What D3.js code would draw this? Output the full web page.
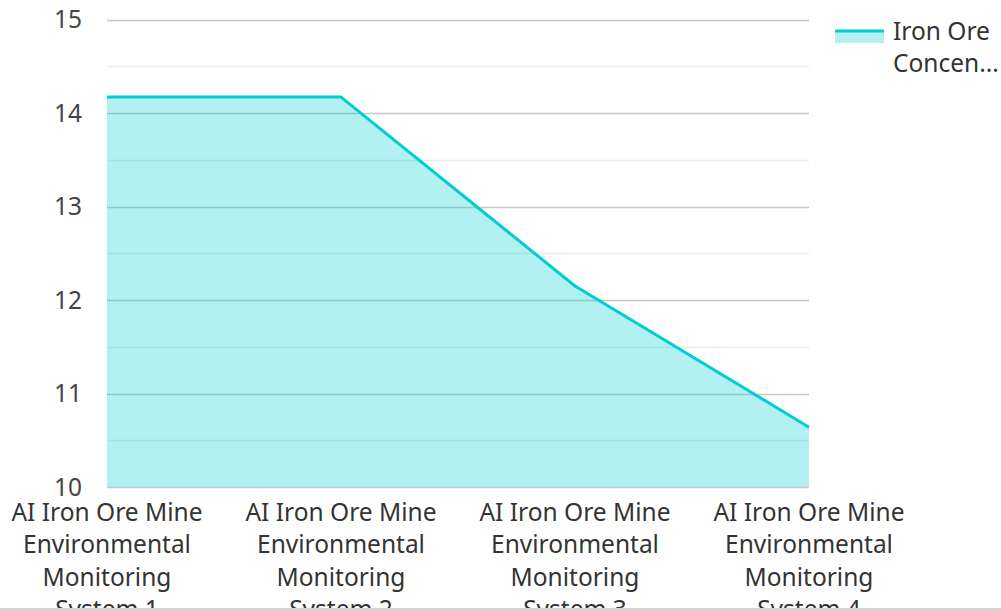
<!DOCTYPE html>
<html>
<head>
<meta charset="utf-8">
<script src="https://cdn.jsdelivr.net/npm/d3@7"></script>
<style>
  html, body { margin: 0; padding: 0; background: #fff; overflow: hidden; }
  svg { display: block; }
  text { font-family: "Noto Sans", "Open Sans", sans-serif; }
</style>
</head>
<body>
<script>
const categories = [
  "AI Iron Ore Mine Environmental Monitoring System 1",
  "AI Iron Ore Mine Environmental Monitoring System 2",
  "AI Iron Ore Mine Environmental Monitoring System 3",
  "AI Iron Ore Mine Environmental Monitoring System 4"
];
const seriesName = "Iron Ore Concentration";
const legendLines = ["Iron Ore", "Concen..."];
const values = [14.17, 14.17, 12.15, 10.64];
const yTicks = [10, 11, 12, 13, 14, 15];
const yMinorTicks = [10.5, 11.5, 12.5, 13.5, 14.5];

const W = 1001, H = 611;
const margin = { left: 107, right: 192, top: 19.5, bottom: 124 };
const color = "#00CED1";
const FS = 24.5;

const svg = d3.select("body").append("svg").attr("width", W).attr("height", H);

const x = d3.scalePoint().domain(categories).range([margin.left, W - margin.right]).padding(0);
const y = d3.scaleLinear().domain([10, 15]).range([H - margin.bottom, margin.top]);

// gridlines
svg.append("g").selectAll("line").data(yMinorTicks).join("line")
  .attr("x1", margin.left).attr("x2", W - margin.right)
  .attr("y1", d => Math.round(y(d)) + 0.5).attr("y2", d => Math.round(y(d)) + 0.5)
  .attr("stroke", "#ebebeb").attr("stroke-width", 1.5);
svg.append("g").selectAll("line").data(yTicks).join("line")
  .attr("x1", margin.left).attr("x2", W - margin.right)
  .attr("y1", d => Math.round(y(d)) + 0.5).attr("y2", d => Math.round(y(d)) + 0.5)
  .attr("stroke", "#c8c8c8").attr("stroke-width", 1.5);

// y labels
svg.append("g").selectAll("text").data(yTicks).join("text")
  .attr("x", 82).attr("y", d => y(d))
  .attr("dy", "0.36em")
  .attr("text-anchor", "end")
  .attr("font-size", FS).attr("fill", "#444")
  .text(d => d);

const data = categories.map((c, i) => ({ c, v: values[i] }));

// area
const area = d3.area().x(d => x(d.c)).y0(y(10)).y1(d => y(d.v));
svg.append("path").datum(data).attr("d", area)
  .attr("fill", color).attr("fill-opacity", 0.3);

// line
const line = d3.line().x(d => x(d.c)).y(d => y(d.v));
svg.append("path").datum(data).attr("d", line)
  .attr("fill", "none").attr("stroke", color).attr("stroke-width", 3)
  .attr("stroke-linejoin", "round");

// x labels with wrap
function wrapWords(text, maxW, fontSize) {
  const ctx = document.createElement("canvas").getContext("2d");
  ctx.font = fontSize + 'px "Noto Sans"';
  const words = text.split(" ");
  const lines = [];
  let cur = "";
  words.forEach(w => {
    const test = cur ? cur + " " + w : w;
    if (ctx.measureText(test).width > maxW && cur) { lines.push(cur); cur = w; }
    else cur = test;
  });
  if (cur) lines.push(cur);
  return lines;
}
const xl = svg.append("g");
categories.forEach(c => {
  const lines = wrapWords(c, 210, FS);
  const t = xl.append("text")
    .attr("text-anchor", "middle")
    .attr("font-size", FS).attr("fill", "#333");
  lines.forEach((l, i) => {
    t.append("tspan").attr("x", x(c)).attr("y", 521 + i * 32.3).text(l);
  });
});

// legend
const lg = svg.append("g");
lg.append("rect").attr("x", 835).attr("y", 31).attr("width", 49).attr("height", 12)
  .attr("fill", color).attr("fill-opacity", 0.3);
lg.append("line").attr("x1", 835).attr("x2", 884).attr("y1", 31).attr("y2", 31)
  .attr("stroke", color).attr("stroke-width", 3);
legendLines.forEach((l, i) => {
  lg.append("text").attr("x", 893).attr("y", 40 + i * 32.3)
    .attr("font-size", FS).attr("fill", "#333").text(l);
});
lg.append("title").text(seriesName);

// bottom bar
svg.append("rect").attr("x", 0).attr("y", 608).attr("width", W).attr("height", 3).attr("fill", "#d4d4d4");
</script>
</body>
</html>
